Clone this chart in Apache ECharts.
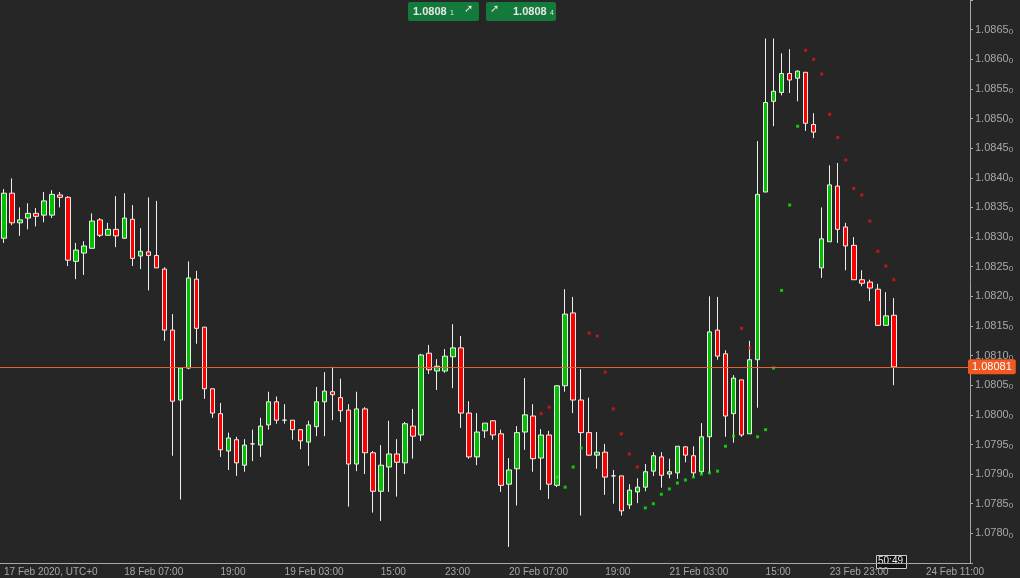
<!DOCTYPE html>
<html><head><meta charset="utf-8">
<script src="https://cdn.jsdelivr.net/npm/echarts@6/dist/echarts.min.js"></script>
<style>html,body{margin:0;padding:0;background:#262626}#c{width:1020px;height:578px}</style>
</head><body><div id="c"></div>
<script>
// [open, close, low, high]
const ohlc = [
[1.08298,1.08374,1.08290,1.08381],[1.08374,1.08324,1.08320,1.08399],[1.08324,1.08329,1.08302,1.08350],[1.08332,1.08340,1.08313,1.08357],
[1.08340,1.08335,1.08318,1.08349],[1.08337,1.08361,1.08325,1.08376],[1.08337,1.08372,1.08332,1.08379],[1.08371,1.08367,1.08350,1.08376],
[1.08367,1.08261,1.08251,1.08369],[1.08259,1.08278,1.08229,1.08290],[1.08273,1.08285,1.08236,1.08293],[1.08281,1.08327,1.08281,1.08340],
[1.08329,1.08303,1.08300,1.08332],[1.08303,1.08313,1.08303,1.08324],[1.08313,1.08302,1.08283,1.08369],[1.08298,1.08332,1.08297,1.08374],
[1.08330,1.08264,1.08251,1.08354],[1.08268,1.08276,1.08246,1.08315],[1.08275,1.08269,1.08210,1.08367],[1.08269,1.08248,1.08248,1.08361],
[1.08246,1.08143,1.08125,1.08249],[1.08143,1.08023,1.07931,1.08170],[1.08025,1.08079,1.07857,1.08079],[1.08079,1.08231,1.08077,1.08259],
[1.08229,1.08146,1.08120,1.08243],[1.08148,1.08044,1.08027,1.08148],[1.08044,1.08003,1.07995,1.08044],[1.08002,1.07941,1.07929,1.08020],
[1.07939,1.07961,1.07907,1.07970],[1.07958,1.07919,1.07897,1.07963],[1.07915,1.07949,1.07904,1.07959],[1.07951,1.07951,1.07922,1.07975],
[1.07949,1.07981,1.07929,1.07995],[1.07983,1.08022,1.07975,1.08039],[1.08022,1.07991,1.07985,1.08031],[1.07991,1.07991,1.07985,1.08018],
[1.07991,1.07975,1.07958,1.07991],[1.07975,1.07956,1.07942,1.07976],[1.07954,1.07983,1.07914,1.07990],[1.07980,1.08022,1.07964,1.08047],
[1.08022,1.08040,1.07964,1.08072],[1.08039,1.08034,1.07991,1.08081],[1.08029,1.08007,1.07988,1.08061],[1.08008,1.07917,1.07845,1.08018],
[1.07917,1.08010,1.07905,1.08039],[1.08010,1.07936,1.07900,1.08013],[1.07936,1.07871,1.07835,1.07939],[1.07871,1.07915,1.07821,1.07949],
[1.07912,1.07934,1.07870,1.07990],[1.07934,1.07920,1.07862,1.07959],[1.07919,1.07985,1.07900,1.07988],[1.07981,1.07964,1.07926,1.08010],
[1.07966,1.08101,1.07956,1.08103],[1.08104,1.08076,1.08069,1.08118],[1.08074,1.08082,1.08042,1.08094],[1.08074,1.08099,1.08071,1.08111],
[1.08098,1.08113,1.08045,1.08153],[1.08113,1.08003,1.07978,1.08133],[1.08003,1.07929,1.07926,1.08023],[1.07929,1.07971,1.07915,1.08003],
[1.07973,1.07986,1.07961,1.07986],[1.07990,1.07966,1.07958,1.07991],[1.07968,1.07881,1.07870,1.07975],[1.07883,1.07907,1.07777,1.07927],
[1.07909,1.07970,1.07847,1.07981],[1.07971,1.08000,1.07941,1.08062],[1.07998,1.07926,1.07904,1.08018],[1.07927,1.07966,1.07873,1.07976],
[1.07966,1.07883,1.07858,1.07973],[1.07881,1.08049,1.07878,1.08050],[1.08049,1.08170,1.08039,1.08212],[1.08172,1.08025,1.08003,1.08199],
[1.08025,1.07970,1.07830,1.08077],[1.07970,1.07932,1.07931,1.08029],[1.07932,1.07937,1.07909,1.07971],[1.07937,1.07895,1.07865,1.07951],
[1.07897,1.07897,1.07850,1.07907],[1.07897,1.07838,1.07830,1.07897],[1.07848,1.07873,1.07841,1.07883],[1.07870,1.07878,1.07851,1.07893],
[1.07878,1.07904,1.07871,1.07917],[1.07905,1.07931,1.07897,1.07937],[1.07929,1.07898,1.07877,1.07937],[1.07900,1.07904,1.07893,1.07926],
[1.07902,1.07947,1.07892,1.07947],[1.07946,1.07932,1.07920,1.07947],[1.07931,1.07902,1.07895,1.07947],[1.07904,1.07963,1.07900,1.07986],
[1.07963,1.08140,1.07902,1.08200],[1.08143,1.08099,1.08093,1.08199],[1.08103,1.07998,1.07963,1.08109],[1.08002,1.08062,1.07953,1.08067],
[1.08059,1.07966,1.07963,1.08059],[1.07968,1.08093,1.07968,1.08125],[1.08093,1.08372,1.08012,1.08462],[1.08376,1.08527,1.08376,1.08635],
[1.08529,1.08546,1.08487,1.08635],[1.08544,1.08576,1.08539,1.08610],[1.08576,1.08565,1.08543,1.08617],[1.08568,1.08580,1.08529,1.08581],
[1.08578,1.08492,1.08479,1.08578],[1.08490,1.08477,1.08467,1.08509],[1.08248,1.08297,1.08231,1.08350],[1.08292,1.08388,1.08292,1.08421],
[1.08386,1.08313,1.08290,1.08425],[1.08317,1.08285,1.08244,1.08324],[1.08286,1.08228,1.08228,1.08300],[1.08228,1.08222,1.08217,1.08244],
[1.08224,1.08214,1.08192,1.08228],[1.08212,1.08151,1.08150,1.08221],[1.08151,1.08167,1.08151,1.08207],[1.08168,1.08081,1.08050,1.08197]
];
const sarRed = [[67,1.08002],[68,1.08013],[73,1.08138],[74,1.08133],[75,1.08072],[76,1.08010],[77,1.07968],[78,1.07934],[79,1.07912],
[92,1.08146],[93,1.08113],[100,1.08615],[101,1.08600],[102,1.08575],[103,1.08507],[104,1.08468],[105,1.08430],[106,1.08382],
[107,1.08371],[108,1.08327],[109,1.08276],[110,1.08251],[111,1.08228]];
const sarGreen = [[69,1.07895],[70,1.07878],[71,1.07912],[72,1.07944],[80,1.07843],[81,1.07850],[82,1.07866],[83,1.07875],
[84,1.07885],[85,1.07890],[86,1.07895],[87,1.07900],[88,1.07902],[89,1.07905],[90,1.07947],[91,1.07964],
[94,1.07963],[95,1.07975],[96,1.08079],[97,1.08210],[98,1.08354],[99,1.08487]];
const lastPrice = 1.08081;
const slotCount = 121;
const timeLabels = {0:'17 Feb 2020, UTC+0',15:'18 Feb 07:00',27:'19:00',35:'19 Feb 03:00',47:'15:00',55:'23:00',
63:'20 Feb 07:00',75:'19:00',83:'21 Feb 03:00',95:'15:00',103:'23 Feb 23:00',115:'24 Feb 11:00'};
const categories = Array.from({length: slotCount}, (_, i) => 'c' + i);

const chart = echarts.init(document.getElementById('c'));
const axisCol = '#a8a8a8';
chart.setOption({
  backgroundColor: '#262626',
  animation: false,
  grid: {left: 0, right: 50, top: 0, bottom: 15},
  xAxis: {
    type: 'category', data: categories, boundaryGap: true,
    axisLine: {lineStyle: {color: axisCol}},
    axisTick: {alignWithLabel: true, length: 4, lineStyle: {color: axisCol}, interval: (i) => timeLabels[i] !== undefined && i > 0},
    axisLabel: {interval: (i) => timeLabels[i] !== undefined, formatter: (v, i) => timeLabels[i] || '',
      color: axisCol, fontSize: 10, fontFamily: 'Liberation Sans Narrow, Liberation Sans, sans-serif', align: 'left', margin: 4}
  },
  yAxis: {
    type: 'value', position: 'right', min: 1.0775, max: 1.0870, interval: 0.0005,
    splitLine: {show: false},
    axisLine: {show: true, lineStyle: {color: axisCol}},
    axisTick: {show: true, length: 3, lineStyle: {color: axisCol}},
    axisLabel: {color: axisCol, fontSize: 11, margin: 5,
      formatter: (v) => (v < 1.0777 || v > 1.0868) ? '' : '{a|' + v.toFixed(4) + '}{b|0}',
      rich: {a: {color: axisCol, fontSize: 11}, b: {color: axisCol, fontSize: 8, verticalAlign: 'bottom', padding: [4,0,0,0]}}}
  },
  series: [
    {type: 'candlestick', data: ohlc, barWidth: 5,
     itemStyle: {color: '#00c000', color0: '#ff0000', borderColor: '#eeeeee', borderColor0: '#eeeeee', borderWidth: 1}},
    {type: 'scatter', data: sarRed, symbol: 'rect', symbolSize: 3, itemStyle: {color: '#ee1010'},
     markLine: {symbol: 'none', silent: true, precision: 5, data: [{yAxis: lastPrice}],
       lineStyle: {color: '#e8632a', width: 1, type: 'solid'},
       label: {position: 'end', formatter: () => lastPrice.toFixed(5), color: '#fff', backgroundColor: '#f05a22',
         padding: [2,4,2,4], borderRadius: 2, fontSize: 11, distance: -2}}},
    {type: 'scatter', data: sarGreen, symbol: 'rect', symbolSize: 3, itemStyle: {color: '#10ee10'}}
  ],
  graphic: [
    {type: 'rect', left: 408, top: 2, shape: {width: 71, height: 19, r: 2}, style: {fill: '#137a3c'}},
    {type: 'text', left: 413, top: 6, style: {text: '1.0808', fill: '#e6e6e6', font: 'bold 11px Liberation Sans'}},
    {type: 'text', left: 450, top: 10, style: {text: '1', fill: '#e6e6e6', font: '7px Liberation Sans'}},
    {type: 'text', left: 464, top: 4, style: {text: '➚', fill: '#e6e6e6', font: 'bold 11px DejaVu Sans'}},
    {type: 'rect', left: 486, top: 2, shape: {width: 70, height: 19, r: 2}, style: {fill: '#137a3c'}},
    {type: 'text', left: 490, top: 4, style: {text: '➚', fill: '#e6e6e6', font: 'bold 11px DejaVu Sans'}},
    {type: 'text', left: 513, top: 6, style: {text: '1.0808', fill: '#e6e6e6', font: 'bold 11px Liberation Sans'}},
    {type: 'text', left: 550, top: 10, style: {text: '4', fill: '#e6e6e6', font: '7px Liberation Sans'}},
    {type: 'rect', left: 876, top: 555, shape: {width: 30, height: 13}, style: {fill: '#111', stroke: '#ccc', lineWidth: 1}},
    {type: 'text', left: 878, top: 556, style: {text: '50:49', fill: '#e6e6e6', font: '10px Liberation Sans'}}
  ]
});
</script></body></html>
